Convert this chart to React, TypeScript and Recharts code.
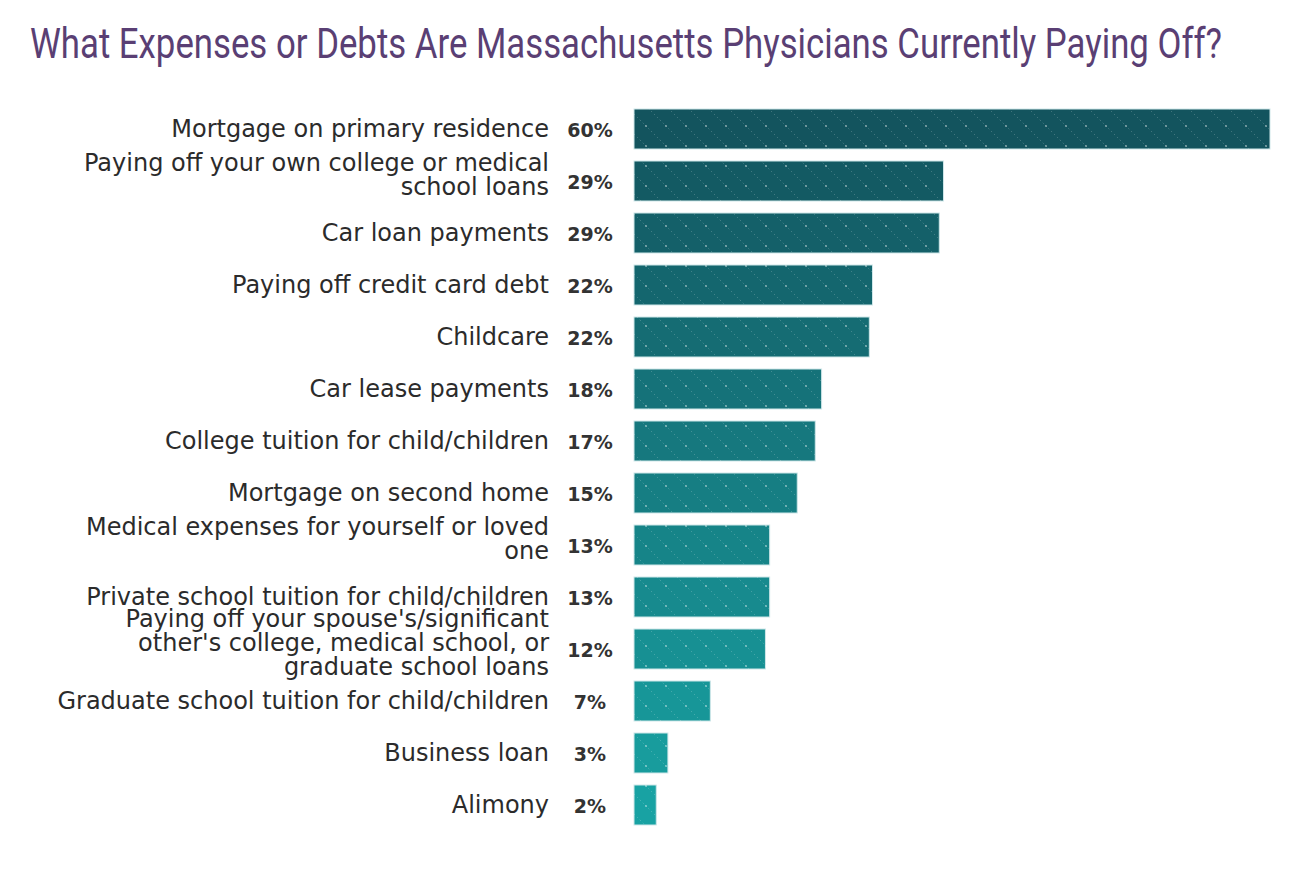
import React from "react"
import { BarChart, Bar, XAxis, YAxis, Cell, LabelList } from "recharts"

const categories = [
  "Mortgage on primary residence",
  "Paying off your own college or medical\nschool loans",
  "Car loan payments",
  "Paying off credit card debt",
  "Childcare",
  "Car lease payments",
  "College tuition for child/children",
  "Mortgage on second home",
  "Medical expenses for yourself or loved\none",
  "Private school tuition for child/children",
  "Paying off your spouse's/significant\nother's college, medical school, or\ngraduate school loans",
  "Graduate school tuition for child/children",
  "Business loan",
  "Alimony",
]

// bar lengths (percent of physicians)
const values = [60, 29.2, 28.8, 22.5, 22.2, 17.7, 17.1, 15.4, 12.8, 12.8, 12.4, 7.2, 3.2, 2.1]

const valueLabels = ["60%", "29%", "29%", "22%", "22%", "18%", "17%", "15%", "13%", "13%", "12%", "7%", "3%", "2%"]

const barColors = [
  "#13545e", "#135a63", "#146069", "#14666e", "#156c73", "#157279", "#16787e",
  "#167e83", "#168488", "#178a8e", "#179093", "#179698", "#189c9d", "#18a2a3",
]

const TITLE = "What Expenses or Debts Are Massachusetts Physicians Currently Paying Off?"

const data = categories.map((name, i) => ({ name, value: values[i], label: valueLabels[i] }))

function CategoryTick(props: any) {
  const { x, y, payload } = props
  const lines = String(payload.value).split("\n")
  const n = lines.length
  const first = 8 - (n - 1) * 12 - (n > 1 ? 6 : 0)
  return (
    <text
      x={x}
      y={y + first}
      textAnchor="end"
      fontFamily="'DejaVu Sans', sans-serif"
      fontSize={24}
      fill="#2b2b2b"
    >
      {lines.map((l, i) => (
        <tspan key={i} x={x} dy={i === 0 ? 0 : 24}>
          {l}
        </tspan>
      ))}
    </text>
  )
}

function ValueLabel(props: any) {
  const { x, y, height, value } = props
  return (
    <text
      x={x - 44}
      y={y + height / 2}
      dy={8}
      textAnchor="middle"
      fontFamily="'DejaVu Sans', sans-serif"
      fontWeight={600}
      fontSize={19}
      fill="#333"
    >
      {value}
    </text>
  )
}

function PatternBar(props: any) {
  const { x, y, width, height, fill } = props
  if (!width || width <= 0) return null
  return (
    <g>
      <rect x={x} y={y} width={width} height={height} fill={fill} stroke="#cfe7e9" strokeWidth={1} />
      <rect x={x} y={y} width={width} height={height} fill="url(#diagDots)" />
    </g>
  )
}

export default function App() {
  return (
    <div style={{ position: "absolute", left: 0, top: 0, width: 1290, height: 878, background: "#fff" }}>
      <svg width={1290} height={90} style={{ position: "absolute", left: 0, top: 0 }}>
        <g transform="scale(0.82,1)">
          <text
            x={30 / 0.82}
            y={58}
            fontFamily="Roboto, sans-serif"
            fontSize={42}
            fill="#5a3f74"
            textLength={1192 / 0.82}
            lengthAdjust="spacingAndGlyphs"
          >
            {TITLE}
          </text>
        </g>
      </svg>
      <BarChart
        width={1290}
        height={878}
        data={data}
        layout="vertical"
        margin={{ top: 103, right: 20, bottom: 47, left: 0 }}
      >
        <defs>
          <pattern id="diagDots" width={20} height={20} patternUnits="userSpaceOnUse">
            <line x1={0} y1={0} x2={20} y2={20} stroke="#ffffff" strokeOpacity={0.28} strokeWidth={1} strokeDasharray="1 3" />
            <circle cx={6} cy={6} r={0.9} fill="#ffffff" fillOpacity={0.5} />
          </pattern>
        </defs>
        <XAxis type="number" domain={[0, 60]} hide />
        <YAxis
          type="category"
          dataKey="name"
          width={634}
          axisLine={false}
          tickLine={false}
          tickSize={0}
          tickMargin={85}
          interval={0}
          tick={<CategoryTick />}
        />
        <Bar dataKey="value" barSize={40} isAnimationActive={false} shape={<PatternBar />}>
          {data.map((d, i) => (
            <Cell key={d.name} fill={barColors[i]} />
          ))}
          <LabelList dataKey="label" content={<ValueLabel />} />
        </Bar>
      </BarChart>
    </div>
  )
}
